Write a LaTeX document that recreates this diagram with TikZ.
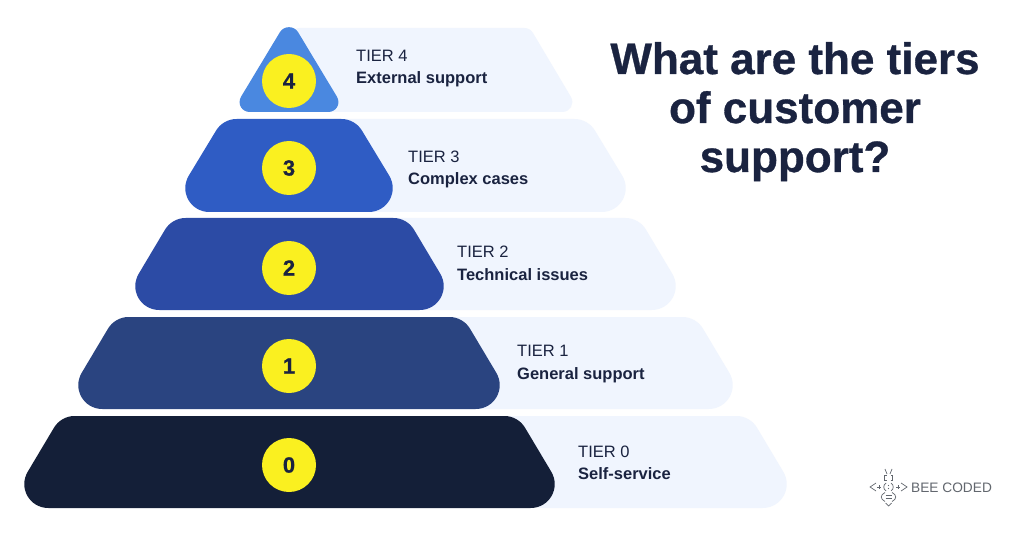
\documentclass[tikz,border=0pt]{standalone}
\usepackage{fontspec}
\setmainfont{Liberation Sans}
\newfontfamily\heavyfont[UprightFont=* Bold,FakeBold=0.7]{Liberation Sans}
\definecolor{ink}{HTML}{1A2340}
\definecolor{pale}{HTML}{F0F5FE}
\definecolor{sun}{HTML}{FAF020}
\definecolor{tfour}{HTML}{4A88E0}
\definecolor{tthree}{HTML}{2F5CC4}
\definecolor{ttwo}{HTML}{2C4BA5}
\definecolor{tone}{HTML}{2A4480}
\definecolor{tzero}{HTML}{141F38}
\definecolor{logo}{HTML}{62676E}
\tikzset{
  badge/.style={circle,fill=sun,minimum size=54pt,inner sep=0pt,text=ink,font=\fontsize{22}{22}\heavyfont\selectfont},
  tierlabel/.style={anchor=base west,inner sep=0pt,text=ink,font=\fontsize{16.5}{18}\selectfont},
  tiername/.style={anchor=base west,inner sep=0pt,text=ink,font=\fontsize{16.5}{18}\selectfont\bfseries},
  headline/.style={anchor=base,inner sep=0pt,text=ink,font=\fontsize{44}{44}\heavyfont\selectfont},
  beeline/.style={draw=logo,line width=0.7pt,fill=none},
}
% colour, x top left, x top right, x bottom right, x bottom left, y top, y bottom, fillet radius
\newcommand\tierfill[8]{%
  \fill[#1] ({#2+.566*#8},#6) -- ({#3-.566*#8},#6)
    .. controls ({#3-.215*#8},#6) and ({#3+.514*.215*#8},{#6+.858*.215*#8}) ..
       ({#3+.514*.566*#8},{#6+.858*.566*#8})
    -- ({#4-.514*1.77*#8},{#7-.858*1.77*#8})
    .. controls ({#4-.514*.98*#8},{#7-.858*.98*#8}) and ({#4-.98*#8},#7) ..
       ({#4-1.77*#8},#7)
    -- ({#5+1.77*#8},#7)
    .. controls ({#5+.98*#8},#7) and ({#5+.514*.98*#8},{#7-.858*.98*#8}) ..
       ({#5+.514*1.77*#8},{#7-.858*1.77*#8})
    -- ({#2-.514*.566*#8},{#6+.858*.566*#8})
    .. controls ({#2-.514*.215*#8},{#6+.858*.215*#8}) and ({#2+.215*#8},#6) ..
       ({#2+.566*#8},#6) -- cycle;}
\begin{document}
\begin{tikzpicture}[x=1pt,y=-1pt]
\useasboundingbox[fill=white] (0,0) rectangle (1024,537);
% pale panels
\tierfill{pale}{294}{530}{580}{294}{28}{112}{10}
\tierfill{pale}{320}{588}{644}{320}{119}{212}{24}
\tierfill{pale}{380}{639}{694}{380}{218}{310}{24}
\tierfill{pale}{440}{696}{751}{440}{317}{409}{24}
\tierfill{pale}{500}{750}{805}{500}{416}{508}{24}
% dark bodies
\fill[tfour] (250,112) -- (328,112)
   .. controls (336.2,112) and (341,104) .. (337,96.8)
   -- (298.1,32.2)
   .. controls (294,25.5) and (284,25.5) .. (279.9,32.2)
   -- (241,96.8)
   .. controls (237,104) and (241.8,112) .. (250,112) -- cycle;
\tierfill{tthree}{223}{355}{411}{167}{119}{212}{24}
\tierfill{ttwo}{172}{407}{462}{117}{218}{310}{24}
\tierfill{tone}{115}{463}{518}{60}{317}{409}{24}
\tierfill{tzero}{61}{518}{573}{6}{416}{508}{24}
% badges
\node[badge] (b4) at (289,81) {4};
\node[badge] (b3) at (289,168) {3};
\node[badge] (b2) at (289,268) {2};
\node[badge] (b1) at (289,366) {1};
\node[badge] (b0) at (289,465) {0};
% labels
\node[tierlabel] (t4) at (356,62) {TIER 4};
\node[tiername] (n4) at (356,84) {External support};
\node[tierlabel] (t3) at (408,163) {TIER 3};
\node[tiername] (n3) at (408,185) {Complex cases};
\node[tierlabel] (t2) at (457,258) {TIER 2};
\node[tiername] (n2) at (457,280) {Technical issues};
\node[tierlabel] (t1) at (517,356) {TIER 1};
\node[tiername] (n1) at (517,379) {General support};
\node[tierlabel] (t0) at (578,457) {TIER 0};
\node[tiername] (n0) at (578,479) {Self-service};
% title
\node[headline] (h1) at (795,74) {What are the tiers};
\node[headline] (h2) at (795,123) {of customer};
\node[headline] (h3) at (795,172) {support?};
% logo
\node[anchor=base west,inner sep=0pt,text=logo,font=\fontsize{13.7}{16}\selectfont] (brand) at (911,492.5) {BEE CODED};
\draw[beeline] (885,469) -- (887,474) (892,469) -- (890,474);
\draw[beeline] (886.5,480) -- (884.5,480) -- (884.5,475.5) -- (886.5,475.5)
               (890.5,480) -- (892.5,480) -- (892.5,475.5) -- (890.5,475.5);
\draw[beeline] (876,483) -- (870,487) -- (876,491) (901,483) -- (907,487) -- (901,491);
\draw[beeline] (877,487) -- (881,487) (879,485) -- (879,489) (896,487) -- (900,487) (898,485) -- (898,489);
\draw[beeline] (886,483) .. controls (883,485) and (883,489) .. (886,491)
               (891,483) .. controls (894,485) and (894,489) .. (891,491);
\fill[logo] (888.5,485.5) circle (0.7pt) (888.5,488.5) circle (0.7pt);
\draw[beeline] (885,492.5) .. controls (880,495) and (880,499) .. (885,501.5)
               (892,492.5) .. controls (897,495) and (897,499) .. (892,501.5);
\draw[beeline] (885.5,495.5) -- (891.5,495.5) (885.5,498.5) -- (891.5,498.5);
\draw[beeline] (885.5,503) -- (888.5,506) -- (891.5,503);
\end{tikzpicture}
\end{document}
